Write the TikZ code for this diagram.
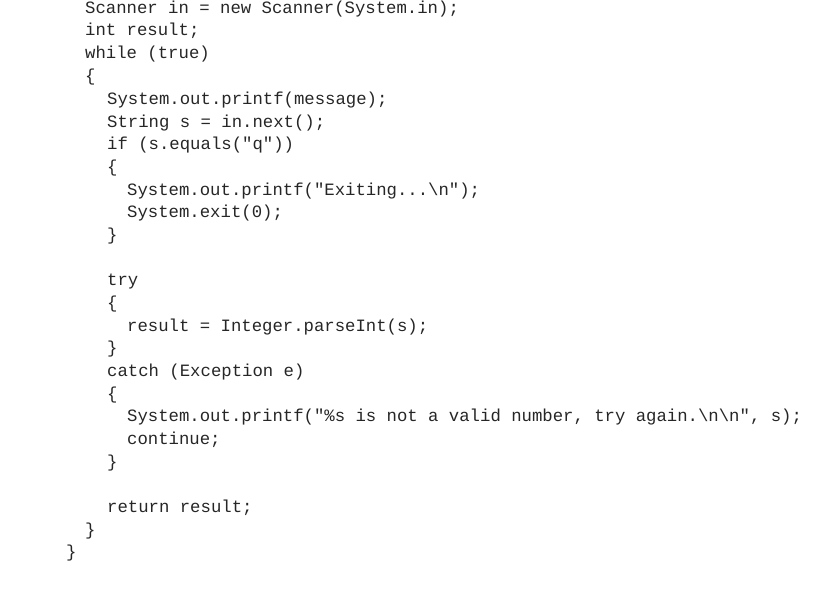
\documentclass[tikz,border=0pt]{standalone}
\usepackage{fontspec}
\setmonofont{Liberation Mono}
\begin{document}
\begin{tikzpicture}[x=1pt,y=1pt,
  code/.style={anchor=west,inner sep=0pt,font=\ttfamily\fontsize{17.3}{17.3}\selectfont,text=black!85}]
\useasboundingbox (0,0) rectangle (826,-590);
\node[code] (l1) at (85,-9) {Scanner in = new Scanner(System.in);};
\node[code] (l2) at (85,-31) {int result;};
\node[code] (l3) at (85,-54) {while (true)};
\node[code] (l4) at (85,-77) {\{};
\node[code] (l5) at (107,-100) {System.out.printf(message);};
\node[code] (l6) at (107,-123) {String s = in.next();};
\node[code] (l7) at (107,-145) {if (s.equals("q"))};
\node[code] (l8) at (107,-168) {\{};
\node[code] (l9) at (127,-191) {System.out.printf("Exiting...\textbackslash n");};
\node[code] (l10) at (127,-213) {System.exit(0);};
\node[code] (l11) at (107,-236) {\}};
\node[code] (l12) at (107,-282) {try};
\node[code] (l13) at (107,-304) {\{};
\node[code] (l14) at (127,-327) {result = Integer.parseInt(s);};
\node[code] (l15) at (107,-349) {\}};
\node[code] (l16) at (107,-372) {catch (Exception e)};
\node[code] (l17) at (107,-395) {\{};
\node[code] (l18) at (127,-417) {System.out.printf("\%s is not a valid number, try again.\textbackslash n\textbackslash n", s);};
\node[code] (l19) at (127,-440) {continue;};
\node[code] (l20) at (107,-463) {\}};
\node[code] (l21) at (107,-508) {return result;};
\node[code] (l22) at (85,-531) {\}};
\node[code] (l23) at (66,-553) {\}};
\end{tikzpicture}
\end{document}
